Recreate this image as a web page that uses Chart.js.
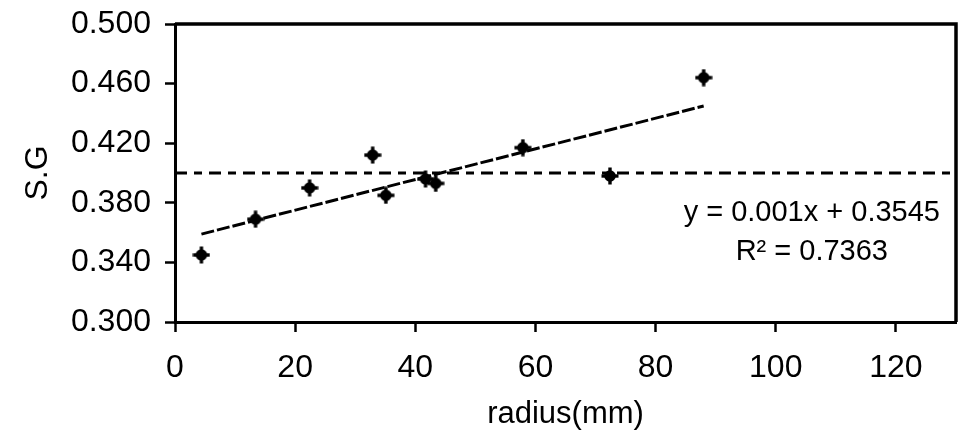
<!DOCTYPE html>
<html>
<head>
<meta charset="utf-8">
<script src="https://cdn.jsdelivr.net/npm/chart.js@4.4.1/dist/chart.umd.min.js"></script>
<style>
html,body{margin:0;padding:0;background:#fff;}
#wrap{width:971px;height:446px;position:relative;}
</style>
</head>
<body>
<div id="wrap"><canvas id="c"></canvas></div>
<script>
// ---- data ----
const radius = [4.4, 13.4, 22.4, 32.9, 35.1, 41.7, 43.4, 57.9, 72.4, 88.0];
const sg     = [0.345, 0.369, 0.390, 0.412, 0.385, 0.396, 0.393, 0.417, 0.398, 0.464];
const trendX = [4.4, 88.0];
const trendY = [0.359, 0.445];
const refX   = [0, 130];
const refY   = [0.400, 0.400];
const xTicks = [0, 20, 40, 60, 80, 100, 120];
const yTicks = [0.300, 0.340, 0.380, 0.420, 0.460, 0.500];
const equationText = "y = 0.001x + 0.3545";
const r2Text = "R\u00B2 = 0.7363";
const xTitle = "radius(mm)";
const yTitle = "S.G";

const FONT = "'Liberation Sans', Arial, sans-serif";

// marker: filled blob with plus arms
function makeMarker(){
  const c = document.createElement('canvas');
  c.width = 18; c.height = 18;
  const g = c.getContext('2d');
  g.fillStyle = '#000';
  g.beginPath(); g.arc(9, 9, 5.8, 0, Math.PI*2); g.fill();
  g.fillRect(7.3, 0.5, 3.4, 17);
  g.fillRect(0.5, 7.3, 17, 3.4);
  return c;
}
const marker = makeMarker();

const pts = radius.map((x,i)=>({x:x, y:sg[i]}));
const trend = trendX.map((x,i)=>({x:x, y:trendY[i]}));
const ref = refX.map((x,i)=>({x:x, y:refY[i]}));

const frame = {
  id:'frame',
  afterDraw(chart){
    const {ctx, chartArea:a, scales} = chart;
    ctx.save();
    ctx.strokeStyle = '#000';
    ctx.lineWidth = 3.5;
    ctx.beginPath();
    ctx.moveTo(a.left, a.top); ctx.lineTo(a.right, a.top); ctx.lineTo(a.right, a.bottom);
    ctx.stroke();
    ctx.fillStyle = '#000';
    ctx.font = '29px ' + FONT;
    ctx.textAlign = 'center';
    ctx.textBaseline = 'middle';
    const x = scales.x.getPixelForValue(106);
    ctx.fillText(equationText, x, scales.y.getPixelForValue(0.3734));
    ctx.fillText(r2Text, x, scales.y.getPixelForValue(0.3467));
    ctx.restore();
  }
};

new Chart(document.getElementById('c'), {
  type:'scatter',
  data:{
    datasets:[
      {data:pts, pointStyle:marker, pointRadius:9, showLine:false, order:0},
      {type:'line', data:trend, borderColor:'#000', borderWidth:3, borderDash:[13,3], pointRadius:0, fill:false, order:1},
      {type:'line', data:ref, borderColor:'#000', borderWidth:3, borderDash:[12,7,8,7], pointRadius:0, fill:false, order:2}
    ]
  },
  options:{
    responsive:true, maintainAspectRatio:false, animation:false,
    layout:{padding:{left:0, top:24, right:15, bottom:0}},
    plugins:{legend:{display:false}, tooltip:{enabled:false}},
    scales:{
      x:{
        type:'linear', min:0, max:130,
        afterBuildTicks(s){ s.ticks = xTicks.map(v=>({value:v})); },
        afterFit(s){ s.height = 124; s.paddingLeft = 0; s.paddingRight = 0; },
        border:{display:true, color:'#000', width:3},
        grid:{display:true, drawOnChartArea:false, drawTicks:true, tickLength:10, tickWidth:2.5, tickColor:'#000'},
        ticks:{color:'#000', font:{family:FONT, size:32}, padding:17, maxRotation:0, autoSkip:false},
        title:{display:true, text:xTitle, color:'#000', font:{family:FONT, size:31}, padding:{top:0, bottom:13}}
      },
      y:{
        type:'linear', min:0.3, max:0.5,
        afterBuildTicks(s){ s.ticks = yTicks.map(v=>({value:v})); },
        afterFit(s){ s.width = 175; s.paddingTop = 0; s.paddingBottom = 0; },
        border:{display:true, color:'#000', width:3},
        grid:{display:true, drawOnChartArea:false, drawTicks:true, tickLength:10, tickWidth:2.5, tickColor:'#000'},
        ticks:{color:'#000', font:{family:FONT, size:32}, padding:14, autoSkip:false, callback:(v)=>Number(v).toFixed(3)},
        title:{display:true, text:yTitle, color:'#000', font:{family:FONT, size:32}, padding:{top:19, bottom:0}}
      }
    }
  },
  plugins:[frame]
});
</script>
</body>
</html>
